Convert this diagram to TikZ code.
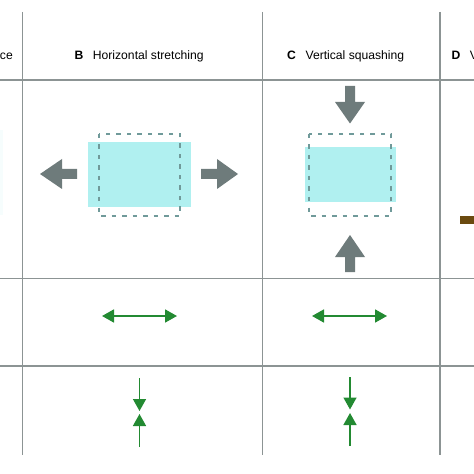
\documentclass[tikz,border=0pt]{standalone}
\usepackage{fontspec}
\setmainfont{Liberation Sans}
\usetikzlibrary{arrows.meta}
\definecolor{gridgray}{HTML}{8C9494}
\definecolor{boxcyan}{HTML}{B0F0F0}
\definecolor{dashgray}{HTML}{709A9A}
\definecolor{fatgray}{HTML}{6E7B7B}
\definecolor{arrgreen}{HTML}{238A32}
\definecolor{brownbar}{HTML}{6B4A10}
\tikzset{
  gridline/.style={draw=gridgray, line width=1.4bp},
  cyanbox/.style={fill=boxcyan},
  dashbox/.style={draw=dashgray, line width=2bp, dash pattern=on 4.5bp off 6bp},
  fatarrow/.style={fill=fatgray},
  greenarrow/.style={draw=arrgreen, line width=1.5bp, -{Triangle[length=12bp,width=13bp]}},
  greenboth/.style={draw=arrgreen, line width=1.8bp, {Triangle[length=12bp,width=13bp]}-{Triangle[length=12bp,width=13bp]}},
  header/.style={anchor=base west, inner sep=0pt, font=\fontsize{12.2}{14}\selectfont},
}
\begin{document}
\begin{tikzpicture}[x=1bp, y=-1bp]
\useasboundingbox (0,0) rectangle (474,474);
\begin{scope}
\clip (0,0) rectangle (474,474);
% grid
\draw[gridline] (22.7,12) -- (22.7,455);
\draw[gridline] (262.7,12) -- (262.7,455);
\draw[gridline] (440,12) -- (440,455);
\draw[gridline] (0,80) -- (474,80);
\draw[gridline] (0,278.3) -- (474,278.3);
\draw[gridline] (0,366) -- (474,366);
% headers
\node[header, anchor=base east] (ha) at (13,59.5) {ce};
\node[header] (hb) at (74.3,59.5) {\textbf{B}\hspace{9.6bp}Horizontal stretching};
\node[header] (hc) at (287,59.5) {\textbf{C}\hspace{9.6bp}Vertical squashing};
\node[header] (hd) at (451.3,59.5) {\textbf{D}\hspace{9.6bp}V};
% faint remnant in column A
\fill[boxcyan!12] (0,130) rectangle (3,215);
% cell B
\fill[cyanbox] (88,142) rectangle (191,207);
\draw[dashbox] (99,134) rectangle (180,216);
\fill[fatarrow] (40,174) -- (62,159) -- (62,169) -- (77,169) -- (77,179) -- (62,179) -- (62,189) -- cycle;
\fill[fatarrow] (238,174) -- (217,159) -- (217,169) -- (201,169) -- (201,179) -- (217,179) -- (217,189) -- cycle;
% cell C
\fill[cyanbox] (305,147) rectangle (396,202);
\draw[dashbox] (309,134) rectangle (391,216);
\fill[fatarrow] (350,123.5) -- (335,102) -- (345,102) -- (345,86) -- (355,86) -- (355,102) -- (365,102) -- cycle;
\fill[fatarrow] (350,235) -- (335,257) -- (345,257) -- (345,272) -- (355,272) -- (355,257) -- (365,257) -- cycle;
% cell D
\fill[brownbar] (460,216) rectangle (476,224);
% row 3
\coordinate (b3l) at (102,316);
\coordinate (b3r) at (177,316);
\coordinate (c3l) at (312,316);
\coordinate (c3r) at (387,316);
\draw[greenboth] (b3l) -- (b3r);
\draw[greenboth] (c3l) -- (c3r);
% row 4
\coordinate (b4t) at (139.5,378);
\coordinate (b4m1) at (139.5,411);
\coordinate (b4m2) at (139.5,414);
\coordinate (b4b) at (139.5,447);
\draw[greenarrow] (b4t) -- (b4m1);
\draw[greenarrow] (b4b) -- (b4m2);
\coordinate (c4t) at (350,377);
\coordinate (c4m1) at (350,409.5);
\coordinate (c4m2) at (350,413);
\coordinate (c4b) at (350,446);
\draw[greenarrow] (c4t) -- (c4m1);
\draw[greenarrow] (c4b) -- (c4m2);
\end{scope}
\end{tikzpicture}
\end{document}
